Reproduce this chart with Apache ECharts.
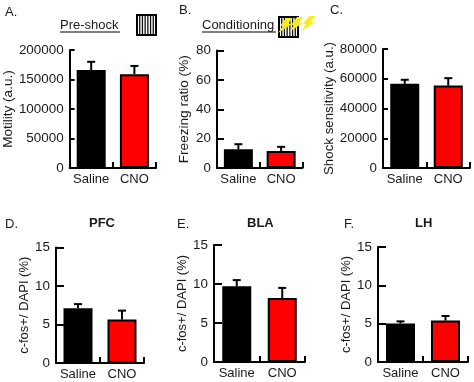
<!DOCTYPE html>
<html>
<head>
<meta charset="utf-8">
<style>
  html, body { margin: 0; padding: 0; background: #fff; }
  #chart, #overlay { position: absolute; left: 0; top: 0; width: 474px; height: 382px; }
  #overlay { pointer-events: none; }
</style>
<script src="https://cdn.jsdelivr.net/npm/echarts@6/dist/echarts.min.js"></script>
</head>
<body>
<div id="chart"></div>
<div id="overlay"></div>
<script>
const groups = ['Saline', 'CNO'];

const motility = [166000, 159000];
const motilityErr = [180000, 173000];
const freezing = [12.8, 11.6];
const freezingErr = [16.2, 14.4];
const shock = [56600, 55400];
const shockErr = [59300, 60400];
const pfc = [7.1, 5.65];
const pfcErr = [7.65, 6.8];
const bla = [9.7, 8.2];
const blaErr = [10.5, 9.5];
const lh = [5.03, 5.4];
const lhErr = [5.3, 6.0];

const font = '"Liberation Sans", Arial, sans-serif';
const ink = '#1a1a1a';

// one entry per panel, x0/x1/y0/y1 are the axis corners in px
const panels = [
  { x0: 69, x1: 156, y0: 50, y1: 168, max: 200000, step: 50000, name: 'Motility (a.u.)', nameGap: 47, nameSize: 13.5, vals: motility, errs: motilityErr, tick: 5 },
  { x0: 217, x1: 302.5, y0: 50.5, y1: 168, max: 80, step: 20, name: 'Freezing ratio (%)', nameGap: 26, nameSize: 13.6, vals: freezing, errs: freezingErr, tick: 7 },
  { x0: 383, x1: 470, y0: 49, y1: 168, max: 80000, step: 20000, name: 'Shock sensitivity (a.u.)', nameGap: 47, nameSize: 13.3, vals: shock, errs: shockErr, tick: 5 },
  { x0: 56, x1: 144, y0: 247.5, y1: 363, max: 15, step: 5, name: 'c-fos+/ DAPI (%)', nameGap: 19, nameSize: 13, vals: pfc, errs: pfcErr, tick: 8 },
  { x0: 214, x1: 305, y0: 245, y1: 362, max: 15, step: 5, name: 'c-fos+/ DAPI (%)', nameGap: 19, nameSize: 13, vals: bla, errs: blaErr, tick: 8 },
  { x0: 378, x1: 468, y0: 247, y1: 362, max: 15, step: 5, name: 'c-fos+/ DAPI (%)', nameGap: 19, nameSize: 13, vals: lh, errs: lhErr, tick: 8 }
];

const W = 474, H = 382;
const grid = [], xAxis = [], yAxis = [], series = [];
const black = { stroke: '#000', lineWidth: 2 };

panels.forEach((p, i) => {
  grid.push({ left: p.x0, right: W - p.x1, top: p.y0, bottom: H - p.y1 });
  xAxis.push({
    type: 'category', gridIndex: i, data: groups,
    axisLine: { show: true, lineStyle: { color: '#000', width: 2 } },
    axisTick: { show: true, inside: true, length: 6, lineStyle: { color: '#000', width: 2 } },
    axisLabel: { color: ink, fontFamily: font, fontSize: 13, margin: 5, interval: 0 },
    splitLine: { show: false }
  });
  yAxis.push({
    type: 'value', gridIndex: i, min: 0, max: p.max, interval: p.step,
    name: p.name, nameLocation: 'middle', nameGap: p.nameGap, nameRotate: 90,
    nameTextStyle: { color: ink, fontFamily: font, fontSize: p.nameSize },
    axisLine: { show: true, lineStyle: { color: '#000', width: 2 } },
    axisTick: { show: true, inside: true, length: p.tick, lineStyle: { color: '#000', width: 2 } },
    axisLabel: { color: ink, fontFamily: font, fontSize: 13.4, margin: 6, formatter: v => String(v) },
    splitLine: { show: false }
  });
  series.push({
    type: 'bar', xAxisIndex: i, yAxisIndex: i, barWidth: 29, z: 3, animation: false,
    data: p.vals.map((v, k) => ({
      value: v,
      itemStyle: { color: k === 0 ? '#000' : '#f00', borderColor: '#000', borderWidth: 2 }
    }))
  });
  // error bars, upper side only
  series.push({
    type: 'custom', xAxisIndex: i, yAxisIndex: i, z: 2, animation: false,
    data: p.vals.map((v, k) => [k, v, p.errs[k]]),
    encode: { x: 0, y: [1, 2] },
    renderItem(params, api) {
      const a = api.coord([api.value(0), api.value(1)]);
      const b = api.coord([api.value(0), api.value(2)]);
      return {
        type: 'group',
        children: [
          { type: 'line', shape: { x1: a[0], y1: a[1], x2: b[0], y2: b[1] }, style: black },
          { type: 'line', shape: { x1: a[0] - 4, y1: b[1], x2: a[0] + 4, y2: b[1] }, style: black }
        ]
      };
    }
  });
});

const label = (text, left, top, extra) => ({
  type: 'text', left, top,
  style: Object.assign({ text, fill: ink, font: '13px ' + font }, extra || {})
});

// striped chamber icon
function chamber(x, y, w, h, n) {
  const kids = [{ type: 'rect', shape: { x, y, width: w, height: h }, style: { fill: '#fff', stroke: '#000', lineWidth: 2 } }];
  for (let i = 1; i < n; i++) {
    const sx = x + w * i / n;
    kids.push({ type: 'line', shape: { x1: sx, y1: y, x2: sx, y2: y + h }, style: { stroke: '#111', lineWidth: 1.3 } });
  }
  return kids;
}

function bolt(x, y) {
  return {
    type: 'polygon', z: 5,
    shape: { points: [[x + 8, y], [x + 14, y], [x + 10, y + 6], [x + 14, y + 6], [x, y + 15], [x + 5, y + 8], [x + 2, y + 8]] },
    style: { fill: '#f9ea1c' }
  };
}

const graphic = [
  label('A.', 5, 6),
  label('B.', 179, 4),
  label('C.', 330, 4),
  label('D.', 5, 218),
  label('E.', 177, 218),
  label('F.', 344, 218),
  label('Pre-shock', 60, 19),
  { type: 'line', shape: { x1: 60, y1: 32, x2: 120, y2: 32 }, style: { stroke: '#000', lineWidth: 1 } },
  label('Conditioning', 202, 19),
  { type: 'line', shape: { x1: 202, y1: 32, x2: 276, y2: 32 }, style: { stroke: '#000', lineWidth: 1 } },
  label('PFC', 89, 217, { font: 'bold 13px ' + font }),
  label('BLA', 247, 217, { font: 'bold 13px ' + font }),
  label('LH', 415, 217, { font: 'bold 13px ' + font })
].concat(chamber(137, 15, 19, 20, 7), chamber(279, 17, 19, 20, 7), [bolt(278, 18), bolt(289, 17), bolt(301, 16)]);

const chart = echarts.init(document.getElementById('chart'));
chart.setOption({ animation: false, grid, xAxis, yAxis, series });

// labels and icons sit in their own instance on top of the axes
const overlay = echarts.init(document.getElementById('overlay'));
overlay.setOption({ animation: false, graphic });
</script>
</body>
</html>
